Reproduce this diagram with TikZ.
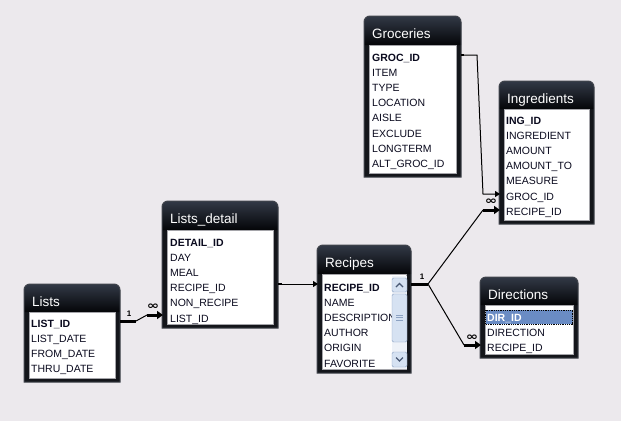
\documentclass[tikz,border=0pt]{standalone}
\usepackage{fontspec}
\setmainfont{Liberation Sans}
\newfontfamily\symfont{DejaVu Sans}
\usetikzlibrary{arrows.meta}
\definecolor{bg}{RGB}{236,233,237}
\definecolor{framefill}{RGB}{20,22,27}
\definecolor{frameedge}{RGB}{64,68,76}
\definecolor{tbtop}{RGB}{50,57,70}
\definecolor{tbbot}{RGB}{4,5,8}
\definecolor{listedge}{RGB}{165,165,170}
\definecolor{selblue}{RGB}{106,140,196}
\definecolor{sbfill}{RGB}{214,226,242}
\definecolor{sbedge}{RGB}{140,162,194}
\definecolor{sbtrack}{RGB}{238,242,248}
\definecolor{sbarrow}{RGB}{74,90,117}
\definecolor{fieldcol}{RGB}{10,10,30}
\tikzset{
  titletext/.style={text=white, font=\fontsize{13.5}{14}\selectfont, inner sep=0pt, anchor=base west},
  fieldtext/.style={text=fieldcol, font=\fontsize{10.5}{11}\selectfont, inner sep=0pt, anchor=base west},
  keytext/.style={fieldtext, font=\fontsize{10.5}{11}\selectfont\bfseries},
  joinline/.style={black, line width=1pt},
  stubline/.style={black, line width=3pt},
  tiparrow/.style={-{Triangle[length=6pt,width=8pt]}},
  smallarrow/.style={-{Triangle[length=5pt,width=6pt]}},
  onelbl/.style={font=\fontsize{8}{8}\selectfont\bfseries, inner sep=0pt},
  manylbl/.style={font=\symfont\fontsize{11}{11}\selectfont\bfseries, inner sep=0pt, xscale=1.35},
}
% #1 name #2 L #3 T #4 R #5 B #6 list top #7 title
\newcommand\acctable[7]{%
  \path[fill=framefill] (#2,#5) [rounded corners=6pt] -- (#2,#3) -- (#4,#3) [sharp corners] -- (#4,#5) -- cycle;
  \begin{scope}
    \clip (#2,#6) [rounded corners=6pt] -- (#2,#3) -- (#4,#3) [sharp corners] -- (#4,#6) -- cycle;
    \shade[top color=tbtop, bottom color=tbbot] (#2,#3) rectangle (#4,#6);
  \end{scope}
  \draw[frameedge, line width=1pt] (#2,#5) [rounded corners=6pt] -- (#2,#3) -- (#4,#3) [sharp corners] -- (#4,#5) -- cycle;
  \draw[fill=white, draw=listedge, line width=1pt] (#2+5,#6) rectangle (#4-5,#5-4);
  \node[titletext] (#1) at (#2+8,#3+22) {#7};
}
% #1 prefix #2 x #3 y0 #4 key #5 others
\newcommand\fieldrows[5]{%
  \node[keytext] (#1k) at (#2,#3+4) {#4};
  \foreach \f [count=\i] in {#5} {\node[fieldtext] (#1\i) at (#2,#3+4+15.2*\i) {\f};}
}
\begin{document}
\begin{tikzpicture}[x=1pt,y=-1pt]
\fill[bg] (0,0) rectangle (621,421);
\useasboundingbox (0,0) rectangle (621,421);

% Groceries
\acctable{groc}{364}{16}{461}{177}{45}{Groceries}
\fieldrows{gr}{372}{57}{GROC\_ID}{ITEM,TYPE,LOCATION,AISLE,EXCLUDE,LONGTERM,ALT\_GROC\_ID}

% Ingredients
\acctable{ingr}{499}{81}{594}{224}{109}{Ingredients}
\fieldrows{in}{506}{120}{ING\_ID}{INGREDIENT,AMOUNT,AMOUNT\_TO,MEASURE,GROC\_ID,RECIPE\_ID}

% Lists_detail
\acctable{ldet}{162}{201}{278}{328}{230}{Lists\_detail}
\fieldrows{ld}{170}{242}{DETAIL\_ID}{DAY,MEAL,RECIPE\_ID,NON\_RECIPE,LIST\_ID}

% Recipes
\acctable{reci}{317}{245}{411}{373}{274}{Recipes}
\begin{scope}
  \clip (322,275) rectangle (391,369);
  \fieldrows{re}{324}{287}{RECIPE\_ID}{NAME,DESCRIPTION,AUTHOR,ORIGIN,FAVORITE}
\end{scope}
\fill[sbtrack] (391.5,276) rectangle (407,369);
\draw[fill=sbfill, draw=sbedge, rounded corners=1.5pt] (392,278) rectangle (407,292);
\draw[fill=sbfill, draw=sbedge, rounded corners=1.5pt] (392,294) rectangle (407,342);
\draw[fill=sbfill, draw=sbedge, rounded corners=1.5pt] (392,352) rectangle (407,367);
\draw[sbarrow, line width=1.3pt] (396,287) -- (399.5,283.5) -- (403,287);
\draw[sbarrow, line width=1.3pt] (396,357.5) -- (399.5,361) -- (403,357.5);
\foreach \g in {315,317.5,320} {\draw[sbedge, line width=0.7pt] (396,\g) -- (403,\g);}

% Lists
\acctable{list}{24}{284}{120}{382}{312}{Lists}
\fieldrows{li}{31}{323}{LIST\_ID}{LIST\_DATE,FROM\_DATE,THRU\_DATE}

% Directions
\acctable{dire}{480}{277}{578}{358}{305}{Directions}
\fill[selblue] (485.5,310) rectangle (572.5,324);
\draw[black, densely dotted, line width=0.8pt] (485.5,310) rectangle (572.5,324);
\node[keytext, text=white] (dik) at (487,321) {DIR\_ID};
\node[fieldtext] (di1) at (487,336) {DIRECTION};
\node[fieldtext] (di2) at (487,351) {RECIPE\_ID};

% Relationship Lists -> Lists_detail
\coordinate (a1) at (120,321);
\coordinate (a2) at (136,321);
\coordinate (a3) at (147,315);
\coordinate (a4) at (163,315);
\draw[stubline] (a1) -- (a2);
\draw[joinline] (a2) -- (a3);
\draw[stubline, tiparrow] (a3) -- (a4);
\node[onelbl] (a1l) at (129,314) {1};
\node[manylbl] (a4l) at (153,307) {∞};

% Lists_detail -> Recipes
\coordinate (b1) at (278,284);
\coordinate (b2) at (318,284);
\draw[joinline, smallarrow] (b1) -- (b2);
\draw[line width=2.5pt] (b1) -- ++(4,0);

% Recipes -> Ingredients / Directions
\coordinate (c0) at (411,284);
\coordinate (c1) at (428,284);
\coordinate (c2) at (483,210);
\coordinate (c3) at (500,210);
\coordinate (c4) at (464,345);
\coordinate (c5) at (481,345);
\draw[stubline] (c0) -- (c1);
\draw[joinline] (c1) -- (c2);
\draw[joinline] (c1) -- (c4);
\draw[stubline, tiparrow] (c2) -- (c3);
\draw[stubline, tiparrow] (c4) -- (c5);
\node[onelbl] (c1l) at (422,277) {1};
\node[manylbl] (c3l) at (491,202) {∞};
\node[manylbl] (c5l) at (472,338) {∞};

% Groceries -> Ingredients
\coordinate (d0) at (461,55);
\coordinate (d1) at (477,55);
\coordinate (d2) at (483,194);
\coordinate (d3) at (500,194);
\draw[joinline, smallarrow] (d0) -- (d1) -- (d2) -- (d3);
\draw[line width=2.5pt] (d0) -- ++(3,0);
\end{tikzpicture}
\end{document}
